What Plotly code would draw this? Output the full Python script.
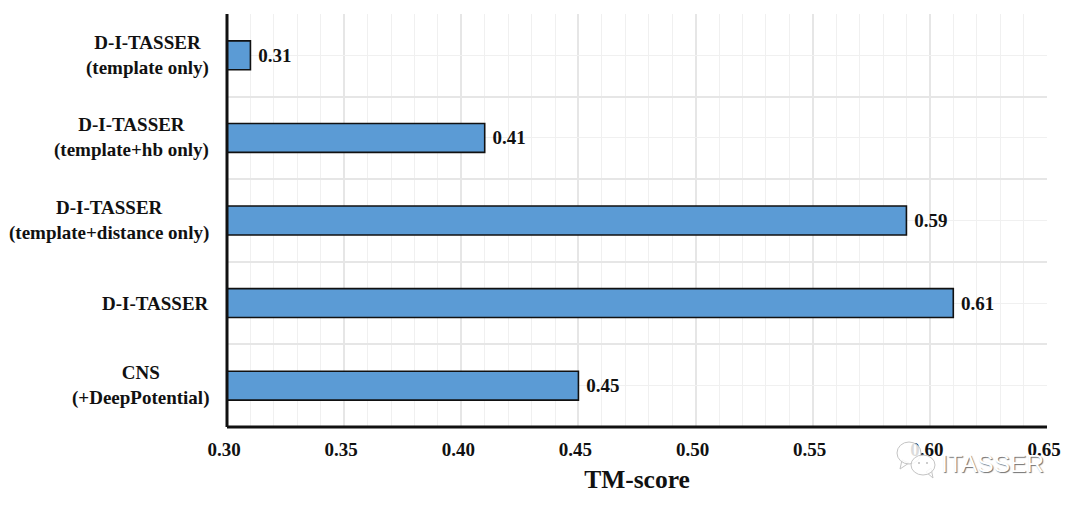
import plotly.graph_objects as go

categories = ["D-I-TASSER<br>(template only)",
              "D-I-TASSER<br>(template+hb only)",
              "D-I-TASSER<br>(template+distance only)",
              "D-I-TASSER",
              "CNS<br>(+DeepPotential)"]
tm_scores = [0.31, 0.41, 0.59, 0.61, 0.45]
score_labels = ["0.31", "0.41", "0.59", "0.61", "0.45"]
x_ticks = [0.30, 0.35, 0.40, 0.45, 0.50, 0.55, 0.60, 0.65]
x_tick_labels = ["0.30", "0.35", "0.40", "0.45", "0.50", "0.55", "0.60", "0.65"]
positions = list(range(len(categories)))

SERIF = "Liberation Serif"
INK = "#111111"
L, R, T, B = 227, 1047, 14, 427


def px(x):
    return (x - L) / (R - L)


def py(y):
    return (B - y) / (B - T)


fig = go.Figure(go.Bar(
    x=tm_scores, y=positions, orientation="h", width=0.35,
    marker=dict(color="#5B9BD5", line=dict(color=INK, width=1.6)),
    text=score_labels, texttemplate="\u00a0%{text}", textposition="outside", cliponaxis=False,
    textfont=dict(family=SERIF, size=19, color=INK, weight="bold"),
    textangle=0,
))

fig.update_layout(
    width=1080, height=508,
    margin=dict(l=L, r=1080 - R, t=T, b=508 - B, pad=0),
    paper_bgcolor="white", plot_bgcolor="white",
    showlegend=False,
    font=dict(family=SERIF, color=INK),
    xaxis=dict(
        range=[0.30, 0.65], tickvals=x_ticks, ticktext=x_tick_labels,
        showline=False, zeroline=False, ticks="",
        showgrid=True, gridcolor="#E6E6E6", gridwidth=1.5,
        minor=dict(dtick=0.01, tick0=0.30, showgrid=True, gridcolor="#F0F0F0", gridwidth=1, ticks=""),
        tickfont=dict(family=SERIF, size=19, color=INK, weight="bold"),
        ticklabelstandoff=9, ticklabelshift=-3,
        title=dict(text="TM-score", standoff=11,
                   font=dict(family=SERIF, size=25.5, color=INK, weight="bold")),
    ),
    yaxis=dict(
        range=[4.5, -0.5], tickvals=positions, showticklabels=False,
        showline=False, zeroline=False, ticks="",
        showgrid=True, gridcolor="#F0F0F0", gridwidth=1,
        minor=dict(tickvals=[-0.5, 0.5, 1.5, 2.5, 3.5, 4.5], showgrid=True,
                   gridcolor="#E6E6E6", gridwidth=1.5, ticks=""),
    ),
)

# bold black left and bottom axis lines, drawn above the bars
fig.add_shape(type="line", xref="paper", yref="paper", x0=0, x1=0, y0=0, y1=1,
              line=dict(color=INK, width=3))
fig.add_shape(type="line", xref="paper", yref="paper", x0=0, x1=1, y0=0, y1=0,
              line=dict(color=INK, width=3))

# category labels: centred lines, right-aligned block
for label, pos in zip(categories, positions):
    fig.add_annotation(text=label, xref="paper", yref="y", x=0, y=pos,
                       xanchor="right", yanchor="middle", xshift=-16, align="center",
                       showarrow=False,
                       font=dict(family=SERIF, size=19, color=INK, weight="bold"))

# watermark: chat-bubble icon and name
def bubble(x0, y0, x1, y1, tail):
    fig.add_shape(type="path", xref="paper", yref="paper",
                  path="M %f,%f L %f,%f L %f,%f Z" % tuple(v for p in tail for v in (px(p[0]), py(p[1]))),
                  line=dict(color="#C4C4C4", width=1), fillcolor="white")
    fig.add_shape(type="circle", xref="paper", yref="paper",
                  x0=px(x0), x1=px(x1), y0=py(y1), y1=py(y0),
                  line=dict(color="#C4C4C4", width=1), fillcolor="rgba(255,255,255,0.85)")


bubble(897, 442, 921, 464, [(902, 460), (900, 469), (909, 463)])
bubble(911, 455, 935, 475, [(926, 472), (933, 478), (931, 468)])
for ex in (919, 927):
    fig.add_shape(type="circle", xref="paper", yref="paper",
                  x0=px(ex - 1), x1=px(ex + 1), y0=py(464), y1=py(462),
                  line=dict(width=0), fillcolor="#BDBDBD")

fig.add_annotation(text="ITASSER", xref="paper", yref="paper", x=px(1046), y=py(463),
                   xanchor="right", yanchor="middle", showarrow=False,
                   font=dict(family="Liberation Sans", size=24.5, color="white",
                             shadow="1px 1px 1px #707070"))

fig.write_html("out.html", config={"displayModeBar": False},
               post_script="document.body.style.margin='0';")
